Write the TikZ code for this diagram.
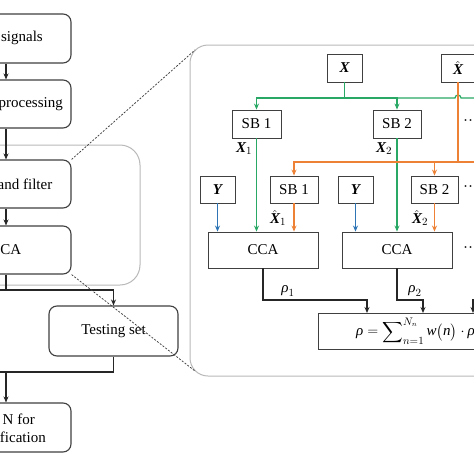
\documentclass[tikz,border=0pt]{standalone}
\usepackage{amsmath}
\usepackage{fontspec}
\setmainfont{Liberation Serif}
\usetikzlibrary{arrows.meta}
\definecolor{dk}{RGB}{64,64,64}
\definecolor{lg}{RGB}{185,185,185}
\definecolor{gr}{RGB}{40,168,100}
\definecolor{org}{RGB}{237,130,55}
\definecolor{bl}{RGB}{46,117,182}
\newcommand{\bX}{\text{\bfseries\itshape X}}
\newcommand{\bY}{\text{\bfseries\itshape Y}}
\newcommand{\rh}{\text{\itshape ρ}}
\newcommand{\iw}{\text{\itshape w}}
\newcommand{\inn}{\text{\itshape n}}
\begin{document}
\begin{tikzpicture}[x=1pt,y=-1pt,
  every node/.style={font=\fontsize{15}{18}\selectfont, inner sep=0pt},
  lbox/.style={draw=dk, line width=1.1pt, rounded corners=8pt, minimum width=130pt, minimum height=49pt},
  sq/.style={draw=dk, line width=0.9pt, minimum height=28pt},
  conn/.style={line width=1.2pt, draw=black!85},
  arr/.style={-{Stealth[length=6pt,width=5pt]}},
  gline/.style={line width=1.2pt, draw=gr},
  oline/.style={line width=1.2pt, draw=org},
  bline/.style={line width=1.2pt, draw=bl},
  graybox/.style={draw=lg, line width=1pt},
  zoomline/.style={draw=dk, line width=0.75pt, dash pattern=on 2pt off 1.5pt}]
\useasboundingbox (0,0) rectangle (474,474);
\fill[white] (0,0) rectangle (474,474);
\clip (0,0) rectangle (474,474);

% zoom frames
\draw[graybox, rounded corners=20pt] (-40,145) rectangle (140,285);
\draw[graybox, rounded corners=18pt] (190,45) rectangle (540,376);

% left column
\node[lbox] (b1) at (6,38.5) {};
\node[lbox, minimum height=48pt] (b2) at (6,104) {};
\node[lbox, minimum height=48pt] (b3) at (6,184) {};
\node[lbox, minimum height=48pt] (b4) at (6,250) {};
\node[lbox, minimum width=129pt, minimum height=50pt] (test) at (113.5,331) {Testing set};
\node[lbox] (nn) at (6,427.5) {};

\node[anchor=east] (t1) at (43,38) {signals};
\node[anchor=east] (t2) at (63,104) {processing};
\node[anchor=east] (t3) at (52.5,184) {and filter};
\node[anchor=east] (t4) at (21.5,250) {CA};
\node[anchor=east] (t5) at (35,419) {N for};
\node[anchor=east] (t6) at (46,437) {fication};

\draw[conn,arr] (b1.south) -- (b2.north);
\draw[conn,arr] (b2.south) -- (b3.north);
\draw[conn,arr] (b3.south) -- (b4.north);
\coordinate (sp) at (6,290);
\coordinate (spl) at (-20,290);
\draw[conn] (b4.south) -- (sp);
\draw[conn] (spl) -- (sp);
\draw[conn,arr] (sp) -| (test.north);
\coordinate (mj) at (6,372);
\coordinate (mjl) at (-20,372);
\draw[conn] (test.south) |- (mjl);
\draw[conn,arr] (mj) -- (nn.north);

% dashed zoom lines
\coordinate (zt) at (195,50);
\coordinate (zb) at (195,371);
\draw[zoomline] (b3.north east) -- (zt);
\draw[zoomline] (b4.south east) -- (zb);

% right panel
\node[sq, minimum width=35pt] (X) at (344.5,68) {$\bX$};
\node[sq, minimum width=34pt] (Xh) at (458,68) {$\hat{\bX}$};
\node[sq, minimum width=49pt] (sb1) at (256.5,124) {SB 1};
\node[sq, minimum width=48pt] (sb2) at (397,124) {SB 2};
\node[sq, minimum width=35pt, minimum height=27pt] (y1) at (217.5,189.5) {$\bY$};
\node[sq, minimum width=48pt, minimum height=27pt] (sc1) at (294,189.5) {SB 1};
\node[sq, minimum width=35pt, minimum height=27pt] (y2) at (355.5,189.5) {$\bY$};
\node[sq, minimum width=47pt, minimum height=27pt] (sc2) at (434.5,189.5) {SB 2};
\node[sq, minimum width=110pt, minimum height=36pt] (cca1) at (263,250) {CCA};
\node[sq, minimum width=110pt, minimum height=36pt] (cca2) at (397,250) {CCA};
\node[sq, minimum width=220pt, minimum height=36pt, anchor=west] (sum) at (318,331) {};
\node[anchor=west] (f) at (356,331) {$\displaystyle\rh=\sum\nolimits_{n=1}^{N_n} \iw\big(\inn\big)\cdot\rh_n$};

\node[anchor=west] (d1) at (463,123) {···};
\node[anchor=west] (d2) at (463,189) {···};
\node[anchor=west] (d3) at (463,250) {···};

\node (lx1) at (244,149) {$\bX_1$};
\node (lx2) at (384,149) {$\bX_2$};
\node (lh1) at (278,218) {$\hat{\bX}_1$};
\node (lh2) at (420,218) {$\hat{\bX}_2$};
\node (lr1) at (288,291) {$\rh_1$};
\node (lr2) at (415,291) {$\rh_2$};

% green
\coordinate (gj) at (344.5,98);
\coordinate (gend) at (540,98);
\draw[gline] (X.south) -- (gj);
\draw[gline,arr] (gj) -| (sb1.north);
\draw[gline,arr] (gj) -| (sb2.north);
\draw[gline] (gj) -- (455,98) arc[start angle=180, end angle=360, radius=3] -- (gend);
\draw[gline,arr] (sb1.south) -- (sb1.south |- cca1.north);
\draw[gline,arr] (sb2.south) -- (sb2.south |- cca2.north);

% orange
\coordinate (oj) at (458,162);
\coordinate (oend) at (540,162);
\draw[oline] (Xh.south) -- (oj);
\draw[oline,arr] (oj) -| (sc1.north);
\draw[oline,arr] (oj) -| (sc2.north);
\draw[oline] (oj) -- (oend);
\draw[oline,arr] (sc1.south) -- (sc1.south |- cca1.north);
\draw[oline,arr] (sc2.south) -- (sc2.south |- cca2.north);

% blue
\draw[bline,arr] (y1.south) -- (y1.south |- cca1.north);
\draw[bline,arr] (y2.south) -- (y2.south |- cca2.north);

% outputs
\coordinate (lv) at (0,300);
\coordinate (s1) at (367,313);
\coordinate (s2) at (423,313);
\coordinate (s3) at (473,313);
\coordinate (c3) at (540,300);
\draw[conn,arr] (cca1.south) -- (cca1.south |- lv) -| (s1);
\draw[conn,arr] (cca2.south) -- (cca2.south |- lv) -| (s2);
\draw[conn,arr] (c3) -| (s3);
\end{tikzpicture}
\end{document}
